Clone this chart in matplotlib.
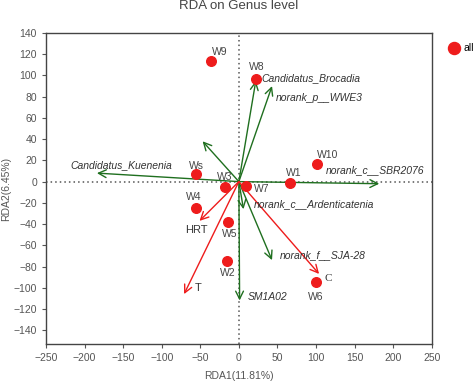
import matplotlib
matplotlib.use("Agg")
import matplotlib.pyplot as plt

plt.rcParams['font.family'] = ['Liberation Sans', 'DejaVu Sans']

# samples
sample_names = ['W9', 'W8', 'Ws', 'W3', 'W7', 'W1', 'W10', 'W4', 'W5', 'W2', 'W6']
sample_x = [-36, 22, -55, -18, 9, 66, 101, -55, -14, -15, 100]
sample_y = [114, 97, 7, -5, -4, -1, 17, -25, -38, -75, -95]

# species arrows
species_names = ['Candidatus_Brocadia', 'norank_p__WWE3', 'Candidatus_Kuenenia', '',
                 'norank_c__SBR2076', 'norank_c__Ardenticatenia', 'norank_f__SJA-28', 'SM1A02']
species_x = [22, 43, -184, -47, 182, 6, 43, 1]
species_y = [95, 90, 8, 38, -2, -26, -74, -112]

# environmental arrows
env_names = ['HRT', 'T', 'C']
env_x = [-51, -71, 104]
env_y = [-37, -106, -87]

# label offsets in pixels (layout only)
sample_off = [(1, 9, 'left'), (1, 12, 'center'), (0, 8, 'center'), (0, 10, 'center'),
              (8, -3, 'left'), (4, 10, 'center'), (0, 9, 'left'), (-3, 11, 'center'),
              (2, -12, 'center'), (0, -12, 'center'), (0, -15, 'center')]
species_off = [(6, 3, 'left'), (4, -12, 'left'), (-26, 8, 'left'), (0, 0, 'left'),
               (-53, 14, 'left'), (10, 5, 'left'), (8, 5, 'left'), (8, 3, 'left')]
env_off = [(-3, -9, 'center'), (11, 6, 'left'), (5, -5, 'left')]

red = '#ee1c1c'
green = '#1f6f1f'
gray = '#555555'

fig = plt.figure(figsize=(4.74, 3.81), dpi=100)
ax = fig.add_axes([46 / 474, 1 - 344 / 381, (431.7 - 46) / 474, (344 - 33) / 381])

ax.axhline(0, color=gray, ls=(0, (1, 2)), lw=1.1, zorder=1)
ax.axvline(0, color=gray, ls=(0, (1, 2)), lw=1.1, zorder=1)

for name, x, y, (dx, dy, ha) in zip(species_names, species_x, species_y, species_off):
    ax.annotate('', xy=(x, y), xytext=(0, 0),
                arrowprops=dict(arrowstyle='->', color=green, lw=1.0, mutation_scale=14,
                                shrinkA=0, shrinkB=0), zorder=2)
    if name:
        ax.annotate(name, xy=(x, y), xytext=(dx, dy), textcoords='offset pixels',
                    ha=ha, va='center', fontsize=7.5, style='italic', color='#333333')

for name, x, y, (dx, dy, ha) in zip(env_names, env_x, env_y, env_off):
    ax.annotate('', xy=(x, y), xytext=(0, 0),
                arrowprops=dict(arrowstyle='->', color=red, lw=1.0, mutation_scale=14,
                                shrinkA=0, shrinkB=0), zorder=2)
    fam = ['Liberation Serif'] if name == 'C' else ['Liberation Sans']
    ax.annotate(name, xy=(x, y), xytext=(dx, dy), textcoords='offset pixels',
                ha=ha, va='center', fontsize=8, color='#333333', family=fam)

ax.scatter(sample_x, sample_y, s=48, color=red, zorder=3, label='all')
for name, x, y, (dx, dy, ha) in zip(sample_names, sample_x, sample_y, sample_off):
    ax.annotate(name, xy=(x, y), xytext=(dx, dy), textcoords='offset pixels',
                ha=ha, va='center', fontsize=7.5, color='#444444')

ax.set_xlim(-250, 250)
ax.set_ylim(-153, 140)
ax.set_xticks(range(-250, 251, 50))
ax.set_yticks(range(-140, 141, 20))
ax.tick_params(labelsize=7.5, colors=gray, length=3, width=0.8)
for s in ax.spines.values():
    s.set_color('#444444')
    s.set_linewidth(1.0)

ax.set_xlabel('RDA1(11.81%)', fontsize=7.5, color=gray, labelpad=6)
ax.set_ylabel('RDA2(6.45%)', fontsize=7.5, color=gray, labelpad=2)
ax.set_title('RDA on Genus level', fontsize=9.5, color='#444444', pad=17)

fig.legend(loc='center left', bbox_to_anchor=(0.94, 0.875), frameon=False,
           fontsize=7.5, handletextpad=0.5, markerscale=1.25, borderaxespad=0,
           handlelength=0.8)

fig.savefig('out.png', dpi=100)
